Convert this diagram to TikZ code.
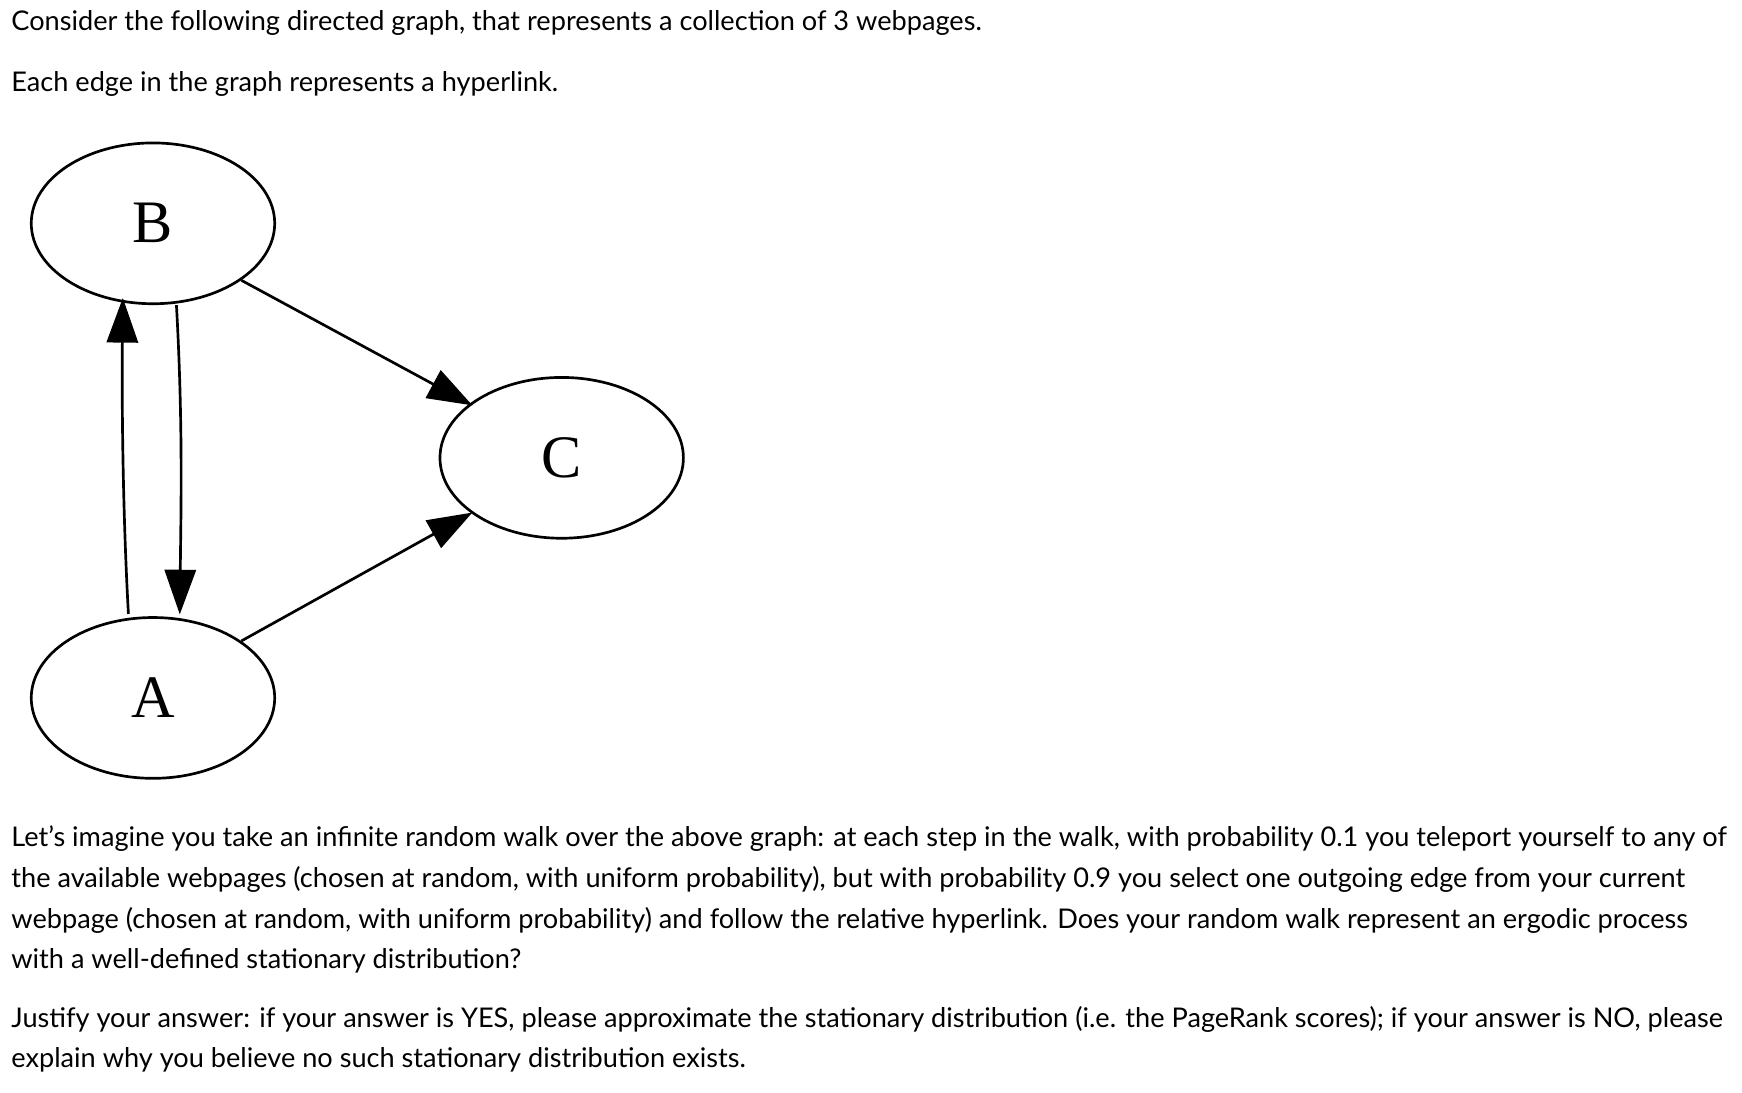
\documentclass[tikz,border=0pt]{standalone}
\usepackage{fontspec}
\setmainfont{Lato}
\newfontfamily\serifnode{Liberation Serif}
\usetikzlibrary{shapes.geometric,arrows.meta}
\begin{document}
\begin{tikzpicture}[x=1pt,y=-1pt,
  page/.style={ellipse,draw,line width=2.4pt,minimum width=218pt,minimum height=144pt,inner sep=0pt,font=\serifnode\fontsize{54}{54}\selectfont},
  txt/.style={anchor=west,inner sep=0pt,font=\fontsize{24.3}{24}\selectfont},
  link/.style={line width=2.4pt,-{Triangle[length=40pt,width=28pt]}}]
\useasboundingbox (0,0) rectangle (1560,978);
\node[txt] (t1) at (10,21) {Consider the following directed graph, that represents a collection of 3 webpages.};
\node[txt] (t2) at (10,75) {Each edge in the graph represents a hyperlink.};
\node[page] (B) at (137,200) {B};
\node[page] (C) at (503,410) {C};
\node[page] (A) at (137,625) {A};
\draw[link] (A.north) ++(-22,-2) .. controls (110,460) and (109,360) .. ++(-5,-283);
\draw[link] (B.south) ++(21,0) .. controls (164,380) and (162,460) .. ++(3,277);
\draw[link] (B.-30) ++(-4,3) -- (423,363);
\draw[link] (A.30) ++(-4,-3) -- (423,459);
\node[txt] (p1) at (10,751) {Let's imagine you take an infinite random walk over the above graph: at each step in the walk, with probability 0.1 you teleport yourself to any of};
\node[txt] (p2) at (10,788) {the available webpages (chosen at random, with uniform probability), but with probability 0.9 you select one outgoing edge from your current};
\node[txt] (p3) at (10,824) {webpage (chosen at random, with uniform probability) and follow the relative hyperlink. Does your random walk represent an ergodic process};
\node[txt] (p4) at (10,860) {with a well-defined stationary distribution?};
\node[txt] (p5) at (10,913) {Justify your answer: if your answer is YES, please approximate the stationary distribution (i.e. the PageRank scores); if your answer is NO, please};
\node[txt] (p6) at (10,949) {explain why you believe no such stationary distribution exists.};
\end{tikzpicture}
\end{document}
